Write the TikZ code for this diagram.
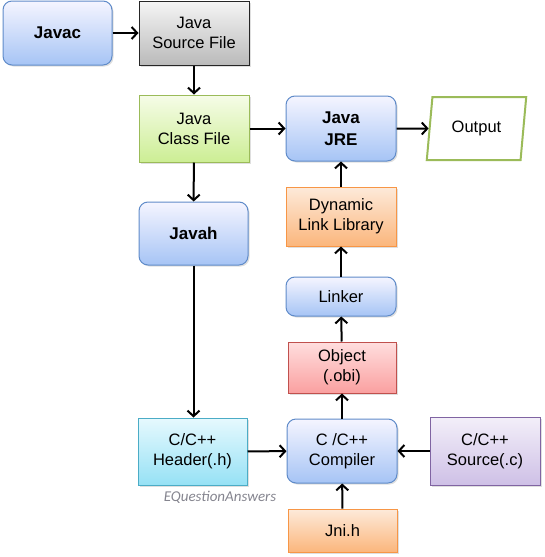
\documentclass[tikz,border=0pt]{standalone}
\usepackage{fontspec}
\setmainfont{Liberation Sans}
\newfontfamily\markfont{Carlito}
\usetikzlibrary{arrows.meta}
\usetikzlibrary{shapes.geometric}
\usetikzlibrary{shadows}

\definecolor{blueedge}{HTML}{5F8BC9}
\definecolor{greenedge}{HTML}{9BBB59}
\definecolor{orangeedge}{HTML}{F79646}
\definecolor{rededge}{HTML}{C0504D}
\definecolor{cyanedge}{HTML}{4BACC6}
\definecolor{purpleedge}{HTML}{8064A2}
\definecolor{markgray}{HTML}{85858F}

\tikzset{
    box/.style={draw, line width=1pt, align=center, inner sep=0pt,
        minimum width=110pt, minimum height=65pt,
        font=\fontsize{16.5}{20}\selectfont,
        drop shadow={shadow xshift=1.5pt, shadow yshift=-1.5pt, opacity=0.25}},
    tool/.style={box, rounded corners=9pt, draw=blueedge,
        top color=blue!4!white, bottom color={rgb,255:red,166;green,196;blue,245}},
    toolname/.style={tool, font=\fontsize{17}{22}\selectfont\bfseries},
    graybox/.style={box, draw=black!85,
        top color=black!4, bottom color=black!27},
    greenbox/.style={box, draw=greenedge,
        top color={rgb,255:red,246;green,252;blue,232}, bottom color={rgb,255:red,204;green,238;blue,148}},
    orangebox/.style={box, draw=orangeedge,
        top color={rgb,255:red,253;green,234;blue,218}, bottom color={rgb,255:red,251;green,182;blue,124}},
    redbox/.style={box, draw=rededge,
        top color={rgb,255:red,255;green,222;blue,222}, bottom color={rgb,255:red,250;green,160;blue,160}},
    cyanbox/.style={box, draw=cyanedge,
        top color={rgb,255:red,230;green,249;blue,254}, bottom color={rgb,255:red,150;green,225;blue,245}},
    purplebox/.style={box, draw=purpleedge,
        top color={rgb,255:red,243;green,239;blue,249}, bottom color={rgb,255:red,206;green,192;blue,230}},
    flow/.style={-{Straight Barb[length=5.5pt, width=12pt]}, line width=2pt},
}

\begin{document}
\begin{tikzpicture}[x=1pt, y=-1pt]
    \useasboundingbox (0,0) rectangle (544,557);

    % java side
    \node[toolname, minimum width=109pt, minimum height=64pt] (javac) at (57.5,33) {Javac};
    \node[graybox, minimum height=64pt] (src) at (194,33) {Java\\Source File};
    \node[greenbox, minimum height=67pt] (class) at (194,128.5) {Java\\Class File};
    \node[toolname, minimum width=109pt, minimum height=63pt] (javah) at (193.5,233.5) {Javah};
    \node[cyanbox, minimum width=109pt, minimum height=67pt] (header) at (192.5,451.5) {C/C++\\Header(.h)};

    % runtime side
    \node[toolname] (jre) at (341,128.5) {Java\\JRE};
    \node[draw=greenedge, line width=2pt, fill=white, trapezium,
        trapezium left angle=78, trapezium right angle=102,
        trapezium stretches=true, minimum width=100pt, minimum height=63pt,
        inner sep=0pt, font=\fontsize{16.5}{20}\selectfont] (out) at (476.5,128.5) {Output};
    \node[orangebox, minimum height=59pt] (dll) at (341,216.5) {Dynamic\\Link Library};
    \node[tool, minimum height=39pt] (linker) at (341,296.5) {Linker};
    \node[redbox, minimum width=108pt, minimum height=51pt] (obj) at (342,367.5) {Object\\(.obi)};
    \node[tool, minimum height=64pt] (cc) at (342,451) {C /C++\\Compiler};
    \node[purplebox, minimum height=68pt] (csrc) at (485,451) {C/C++\\Source(.c)};
    \node[orangebox, minimum width=109pt, minimum height=43pt] (jni) at (342.5,530.5) {Jni.h};

    \node[text=markgray, font=\markfont\itshape\fontsize{15}{17}\selectfont] (mark) at (220,497) {EQuestionAnswers};

    % connectors
    \draw[flow] (javac) -- (src);
    \draw[flow] (src) -- (class);
    \draw[flow] (class) -- (jre);
    \draw[flow] (class) -- (javah);
    \draw[flow] (javah.south) -- (header.north -| javah.south);
    \draw[flow] (header) -- (cc);
    \draw[flow] (csrc) -- (cc);
    \draw[flow] (jni) -- (cc);
    \draw[flow] (cc) -- (obj);
    \draw[flow] (obj) -- (linker);
    \draw[flow] (linker) -- (dll);
    \draw[flow] (dll) -- (jre);
    \draw[flow] (jre) -- (out);
\end{tikzpicture}
\end{document}
